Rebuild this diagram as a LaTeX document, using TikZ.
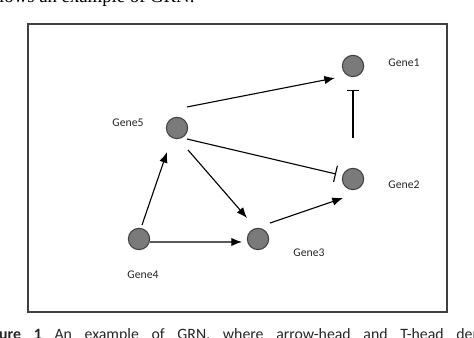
\documentclass[tikz,border=0pt]{standalone}
\usepackage{fontspec}
\setmainfont{Liberation Serif}
\newfontfamily\calfont{Carlito}
\usetikzlibrary{arrows.meta}

\begin{document}
\begin{tikzpicture}[x=0.03cm, y=0.03cm,
    gene/.style={circle, draw=black!75, line width=0.9pt, fill=black!52,
                 minimum size=0.64cm, inner sep=0pt},
    glabel/.style={font=\calfont\fontsize{10}{12}\selectfont, text=black!85},
    act/.style={-{Latex[length=3.2mm, width=2.5mm]}, line width=0.95pt},
    inh/.style={-{Bar[width=#1]}, line width=0.95pt}]
  \useasboundingbox (0,0) rectangle (474,338);
  \clip (0,0) rectangle (474,338);

  % Text around the figure
  \node[anchor=base west, inner sep=0pt, font=\fontsize{16}{18}\selectfont] (intro)
    at (-1,335.5) {lows an example of GRN.};
  \node[anchor=base west, inner sep=0pt, font=\calfont\fontsize{13.5}{16}\selectfont,
    text=black!85] (cap) at (-1,-2)
    {\makebox[14.45cm][s]{\textbf{ure 1} An example of GRN, where arrow-head and T-head den}};

  % Frame
  \draw[line width=1.2pt, black!75] (28,26) rectangle (447,314);

  % Genes
  \node[gene] (g1) at (353,272) {};
  \node[gene] (g2) at (353,159) {};
  \node[gene] (g3) at (258,99) {};
  \node[gene] (g4) at (139,99) {};
  \node[gene] (g5) at (177,210) {};

  % Labels
  \node[glabel] (l1) at (404,275) {Gene1};
  \node[glabel] (l2) at (404,153) {Gene2};
  \node[glabel] (l3) at (309,85) {Gene3};
  \node[glabel] (l4) at (143,63) {Gene4};
  \node[glabel] (l5) at (128,215) {Gene5};

  % Activation
  \draw[act] ([shift={(64.5:23.3)}]g5.center) -- ([shift={(213.7:21.6)}]g1.center);
  \draw[act] ([shift={(-63.4:24.6)}]g5.center) -- ([shift={(117.6:23.7)}]g3.center);
  \draw[act] ([shift={(77.9:14.3)}]g4.center) -- ([shift={(247.4:26)}]g5.center);
  \draw[act] ([shift={(-15:11.4)}]g4.center) -- ([shift={(190.6:16.3)}]g3.center);
  \draw[act] ([shift={(53:20)}]g3.center) -- ([shift={(242.2:21.5)}]g2.center);

  % Inhibition
  \draw[inh=3.5mm] ([shift={(90:41)}]g2.center) -- ([shift={(270:24)}]g1.center);
  \draw[inh=5mm] ([shift={(-47.7:14.9)}]g5.center) -- ([shift={(163.6:17.7)}]g2.center);
\end{tikzpicture}
\end{document}
